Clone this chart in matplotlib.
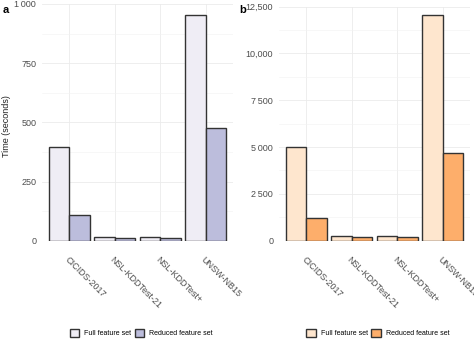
import numpy as np
import matplotlib.pyplot as plt
from matplotlib.patches import Patch

plt.rcParams['font.family'] = ['Liberation Sans', 'DejaVu Sans']

# === data ===
datasets = ['CICIDS-2017', 'NSL-KDDTest-21', 'NSL-KDDTest+', 'UNSW-NB15']
legend_labels = ['Full feature set', 'Reduced feature set']

# panel a
a_full = [398, 15, 15, 954]
a_reduced = [110, 12, 12, 478]
a_ticks = [0, 250, 500, 750, 1000]
a_ticklabels = ['0', '250', '500', '750', '1\u2009000']

# panel b
b_full = [5000, 270, 250, 12050]
b_reduced = [1200, 200, 200, 4700]
b_ticks = [0, 2500, 5000, 7500, 10000, 12500]
b_ticklabels = ['0', '2\u2009500', '5\u2009000', '7\u2009500', '10,000', '12,500']

a_colors = ['#EFEDF5', '#BCBDDC']
b_colors = ['#FEE6CE', '#FDAE6B']

fig = plt.figure(figsize=(4.74, 3.47), dpi=100)
ax_a = fig.add_axes([0.088, 0.3055, 0.4036, 0.683])
ax_b = fig.add_axes([0.588, 0.3063, 0.4036, 0.6747])

def draw_panel(ax, full, reduced, colors, ticks, ticklabels):
    x = np.arange(len(datasets))
    w = 0.45
    ax.bar(x - w / 2, full, width=w, color=colors[0], edgecolor='#333333',
           linewidth=1.0, zorder=3)
    ax.bar(x + w / 2, reduced, width=w, color=colors[1], edgecolor='#333333',
           linewidth=1.0, zorder=3)
    ax.set_xlim(-0.6, len(datasets) - 0.4)
    ax.set_ylim(0, ticks[-1])
    ax.set_yticks(ticks)
    ax.set_yticklabels(ticklabels)
    step = ticks[1] - ticks[0]
    ax.set_yticks(np.arange(step / 2, ticks[-1], step), minor=True)
    ax.set_xticks(x)
    ax.set_xticklabels(datasets, rotation=-45, ha='left', va='top',
                       rotation_mode='anchor')
    ax.grid(True, which='major', color='#EBEBEB', linewidth=0.6, zorder=0)
    ax.grid(True, which='minor', axis='y', color='#F2F2F2', linewidth=0.4, zorder=0)
    for s in ax.spines.values():
        s.set_visible(False)
    ax.tick_params(which='both', length=0, labelsize=6.5, labelcolor='#4D4D4D')
    ax.tick_params(axis='x', pad=10)
    ax.tick_params(axis='y', pad=4)

draw_panel(ax_a, a_full, a_reduced, a_colors, a_ticks, a_ticklabels)
draw_panel(ax_b, b_full, b_reduced, b_colors, b_ticks, b_ticklabels)

fig.text(0.013, 0.636, 'Time (seconds)', rotation=90, ha='center', va='center',
         fontsize=6.5, color='#222222')
fig.text(0.006, 0.985, 'a', fontsize=8, fontweight='bold', va='top')
fig.text(0.505, 0.985, 'b', fontsize=8, fontweight='bold', va='top')

for colors, cx in [(a_colors, 0.298), (b_colors, 0.797)]:
    handles = [Patch(facecolor=c, edgecolor='#333333', linewidth=1.0) for c in colors]
    fig.legend(handles, legend_labels, loc='center', bbox_to_anchor=(cx, 0.04),
               ncol=2, frameon=False, fontsize=5, handlelength=1.4,
               handleheight=1.4, handletextpad=0.7, columnspacing=0.5)

fig.savefig('out.png', dpi=100)
